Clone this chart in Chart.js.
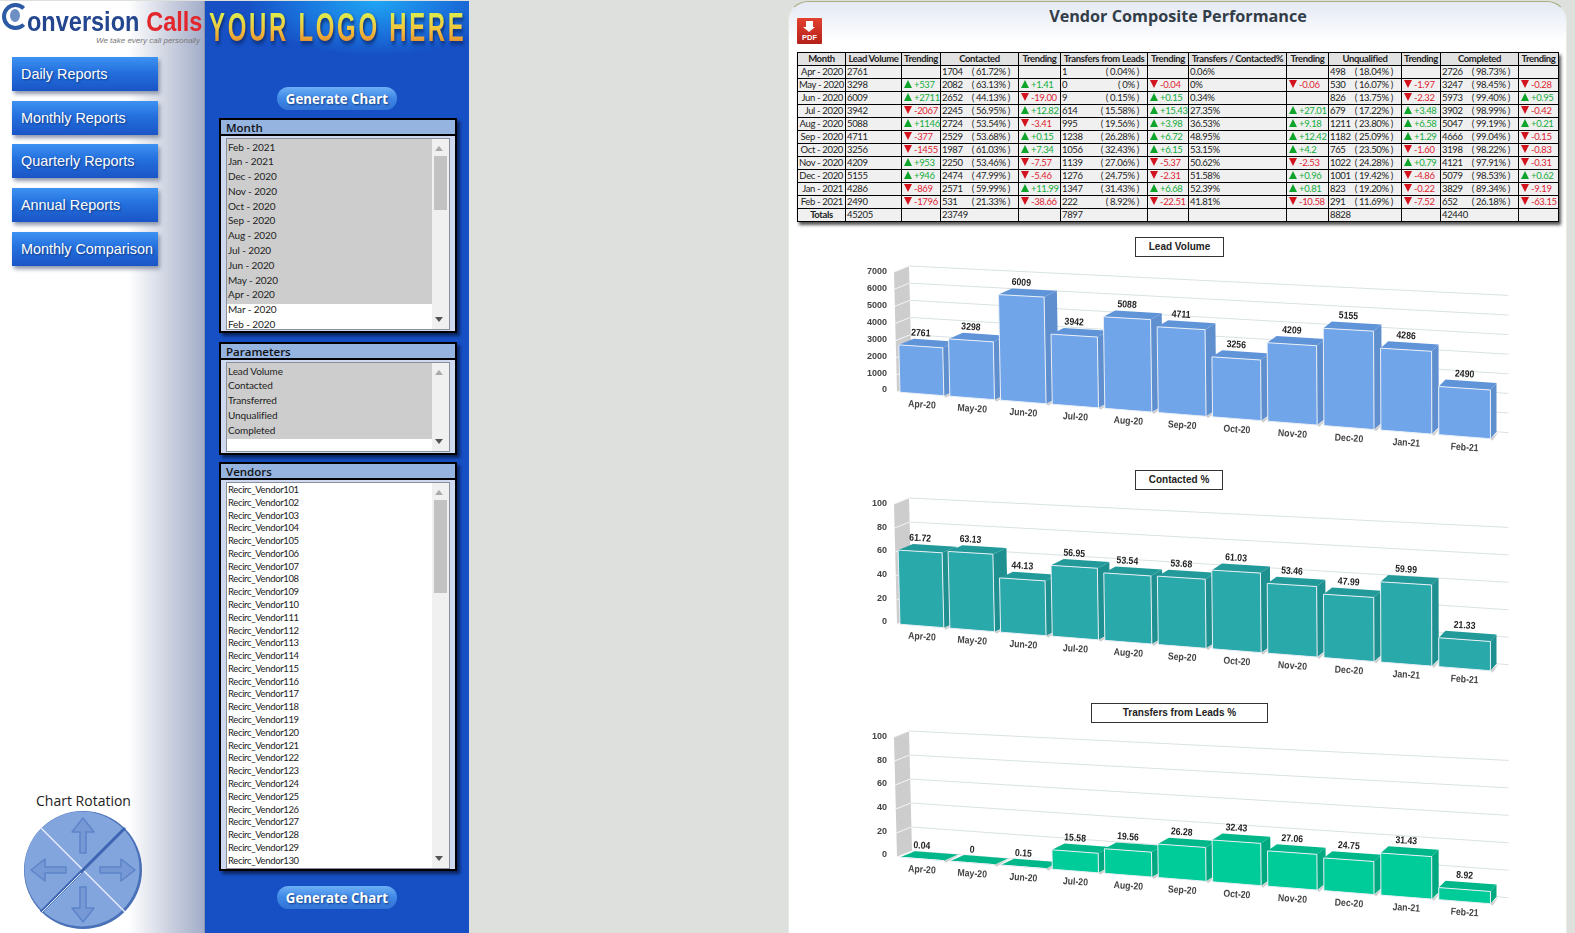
<!DOCTYPE html>
<html>
<head>
<meta charset="utf-8">
<title>Vendor Composite Performance</title>
<script src="https://cdn.jsdelivr.net/npm/chart.js@4/dist/chart.umd.min.js"></script>
<style>
html, body { margin: 0; padding: 0; width: 1575px; height: 933px; overflow: hidden; background: #dde0dc; font-family: "Open Sans", sans-serif; }
div, canvas, table, svg { position: absolute; box-sizing: border-box; }
#sidebar { left: 0; top: 1px; width: 205px; height: 932px; background: linear-gradient(90deg, #fff 0, #fff 128px, #c5cbdc 175px, #a3adc9 204px); border-right: 1px solid #8b93a8; }
.logo1 { left: 27px; top: 6px; font: bold 27.5px "Liberation Sans", sans-serif; color: #23468f; white-space: nowrap; transform-origin: left top; transform: scaleX(0.855); }
.logo1 b { color: #e3262c; margin-left: 8px; }
.logoC { left: 2px; top: 3px; width: 27px; height: 27px; border-radius: 50%; border: 4px solid #2c5aa5; border-right-color: transparent; }
.logoH { left: 10px; top: 9px; width: 10px; height: 13px; border-radius: 50%; background: #6d8fc4; }
.tag { left: 96px; top: 36px; font: italic 8px "Liberation Sans", sans-serif; color: #777; white-space: nowrap; }
.navbtn { left: 12px; width: 146px; height: 34px; background: linear-gradient(180deg, #3d92f2 0, #2470de 45%, #1a55c6 100%); box-shadow: 2px 3px 4px #8e98ac; color: #fff; font: 14.4px/35px "Liberation Sans", sans-serif; padding-left: 9px; text-shadow: 1px 1px 2px #123a80; white-space: nowrap; }
#blue { left: 205px; top: 1px; width: 264px; height: 932px; background: radial-gradient(ellipse 130px 55px at 170px 0, #1fa6f4 0, #1a72dc 60%, #1650c4 100%), #1650c4; background-size: 100% 60px; background-repeat: no-repeat; background-color: #1650c4; }
.yourlogo { left: 209px; top: 4px; font: bold 41px "Liberation Sans", sans-serif; letter-spacing: 4.6px; white-space: nowrap; transform-origin: left top; transform: scaleX(0.585); background: linear-gradient(180deg, #dfe84a 25%, #f2c23c 55%, #e48a2e 85%); -webkit-background-clip: text; background-clip: text; color: transparent; filter: drop-shadow(2px 3px 2px #0c2f78); }
.gen { left: 277px; width: 120px; height: 23px; border-radius: 12px; background: linear-gradient(180deg, #6cb0f6 0, #3f87e6 50%, #3273d6 100%); color: #fff; font: bold 13.3px/25px "Open Sans", sans-serif; text-align: center; text-shadow: 1px 1px 2px #123a80; }
.box { left: 219px; width: 238px; background: #ced9f0; border: 2px solid #000; box-shadow: 3px 3px 3px #0a2560; }
.boxhead { left: 0; top: 0; width: 234px; height: 16px; background: #96b4e0; border-bottom: 2px solid #000; font: 600 11.5px/16px "Open Sans", sans-serif; color: #111; padding-left: 5px; }
.list { left: 5px; width: 224px; background: #fff; border: 1px solid #8a8f9a; overflow: hidden; }
.sel { left: 0; top: 0; width: 205px; background: #cdcdcd; }
.item { left: 1px; font: 10px Lato, sans-serif; letter-spacing: -0.1px; color: #222; white-space: nowrap; line-height: 13px; }
#vendorList .item { font-size: 9.5px; letter-spacing: -0.35px; }
.scroll { right: 0; top: 0; width: 17px; height: 100%; background: #f0f0f0; }
.thumb { left: 2px; width: 13px; background: #c2c2c2; }
.arr { left: 3px; width: 0; height: 0; border-left: 4px solid transparent; border-right: 4px solid transparent; }
.rot { left: 0; width: 167px; top: 791px; text-align: center; font: 14px "Open Sans", sans-serif; color: #222; }
#card { left: 788px; top: 1px; width: 779px; height: 932px; border-radius: 20px 20px 0 0; border-top: 1px solid #a8ad7c; border-left: 1px solid #e8eae4; border-right: 1px solid #e8eae4; background: linear-gradient(180deg, #e4e9f4 0, #fff 40px, #fff 100%); }
.title { left: 785px; width: 786px; top: 5px; text-align: center; font: 700 16.2px "Open Sans", sans-serif; color: #333d48; }
.pdf { left: 797px; top: 18px; width: 25px; height: 26px; background: linear-gradient(180deg, #e2412f, #b5201a); border-radius: 1px; color: #fff; font: bold 7.5px "Liberation Sans", sans-serif; text-align: center; padding-top: 15px; }
.pdf i { position: absolute; left: 9px; top: 3px; width: 7px; height: 6px; background: #fff; }
.pdf u { position: absolute; left: 6px; top: 9px; width: 0; height: 0; border-left: 6.5px solid transparent; border-right: 6.5px solid transparent; border-top: 5px solid #fff; }
#tbl { left: 797px; top: 51.5px; width: 761px; border-collapse: collapse; table-layout: fixed; font: 9.5px Lato, sans-serif; letter-spacing: -0.35px; color: #222; box-shadow: 2px 3px 3px #555; background: #f0f0f0; }
#tbl tr { height: 13px; }
#tbl th, #tbl td { border: 1px solid #000; height: 12px; padding: 0 1px; white-space: nowrap; overflow: hidden; line-height: 11px; position: relative; }
#tbl th { background: #e2e2e2; font-weight: 700; font-size: 9.5px; text-align: center; }
#tbl td.mon { text-align: right; padding-right: 2px; }
#tbl td.tot { text-align: center; font-weight: 700; }
#tbl .pct { position: absolute; right: 8px; top: 0; }
#tbl .up { color: #13ad3c; }
#tbl .down { color: #e01d33; }
.tri { display: inline-block; width: 0; height: 0; border-left: 4px solid transparent; border-right: 4px solid transparent; margin: 0 2px 0 1px; }
.tri.u { border-bottom: 8px solid #0ea52a; }
.tri.d { border-top: 8px solid #d2121c; }
.ctitle { background: #fff; border: 1px solid #333; font: bold 10px/18px "Liberation Sans", sans-serif; text-align: center; color: #222; }
</style>
</head>
<body>
<div id="sidebar"></div>
<div class="logoC"></div><div class="logoH"></div>
<div class="logo1">onversion<b>Calls</b></div>
<div class="tag">We take every call personally</div>
<div id="nav"></div>
<div id="blue"></div>
<div class="yourlogo">YOUR LOGO HERE</div>
<div class="gen" style="top:87px">Generate Chart</div>
<div class="box" style="top:118px;height:215px"><div class="boxhead">Month</div><div class="list" id="monthList" style="top:18px;height:192px"></div></div>
<div class="box" style="top:342px;height:113px"><div class="boxhead">Parameters</div><div class="list" id="paramList" style="top:18px;height:90px"></div></div>
<div class="box" style="top:462px;height:409px"><div class="boxhead">Vendors</div><div class="list" id="vendorList" style="top:18px;height:387px"></div></div>
<div class="gen" style="top:886px">Generate Chart</div>
<div class="rot">Chart Rotation</div>
<svg style="left:20px;top:807px" width="126" height="126" viewBox="-63 -63 126 126">
  <circle r="59" fill="#4a70b8"/>
  <circle cx="-1" cy="-1" r="57.5" fill="#82a5dd"/>
  <line x1="-42" y1="-42" x2="42" y2="42" stroke="#e6eefa" stroke-width="1.5"/>
  <line x1="-42" y1="42" x2="42" y2="-42" stroke="#3d64b0" stroke-width="3"/>
  <line x1="-42" y1="43" x2="-2" y2="3" stroke="#e6eefa" stroke-width="1"/>
  <g fill="#7699d6" stroke="#5c84c8" stroke-width="1.5" stroke-linejoin="round">
    <path d="M0-52 L11-38 L3-38 L3-17 L-3-17 L-3-38 L-11-38 Z"/>
    <path d="M0 52 L11 38 L3 38 L3 17 L-3 17 L-3 38 L-11 38 Z"/>
    <path d="M-52 0 L-38 11 L-38 3 L-17 3 L-17 -3 L-38 -3 L-38 -11 Z"/>
    <path d="M52 0 L38 11 L38 3 L17 3 L17 -3 L38 -3 L38 -11 Z"/>
  </g>
</svg>
<div id="card"></div>
<div class="title">Vendor Composite Performance</div>
<div class="pdf"><i></i><u></u>PDF</div>
<table id="tbl"></table>
<div class="ctitle" style="left:1135px;top:237px;width:89px;height:20px">Lead Volume</div>
<div class="ctitle" style="left:1135px;top:470px;width:88px;height:20px">Contacted %</div>
<div class="ctitle" style="left:1091px;top:703px;width:177px;height:20px">Transfers from Leads %</div>
<canvas id="chartLead" width="680" height="200" style="left:850px;top:258px"></canvas>
<canvas id="chartContacted" width="680" height="200" style="left:850px;top:490px"></canvas>
<canvas id="chartTransfers" width="680" height="200" style="left:850px;top:723px"></canvas>

<script>
const navItems = ['Daily Reports', 'Monthly Reports', 'Quarterly Reports', 'Annual Reports', 'Monthly Comparison'];
const navTops = [57, 101, 144, 188, 232];
const monthOptions = ['Feb - 2021', 'Jan - 2021', 'Dec - 2020', 'Nov - 2020', 'Oct - 2020', 'Sep - 2020', 'Aug - 2020', 'Jul - 2020', 'Jun - 2020', 'May - 2020', 'Apr - 2020', 'Mar - 2020', 'Feb - 2020'];
const paramOptions = ['Lead Volume', 'Contacted', 'Transferred', 'Unqualified', 'Completed'];
const vendorOptions = ['Recirc_Vendor101', 'Recirc_Vendor102', 'Recirc_Vendor103', 'Recirc_Vendor104', 'Recirc_Vendor105', 'Recirc_Vendor106', 'Recirc_Vendor107', 'Recirc_Vendor108', 'Recirc_Vendor109', 'Recirc_Vendor110', 'Recirc_Vendor111', 'Recirc_Vendor112', 'Recirc_Vendor113', 'Recirc_Vendor114', 'Recirc_Vendor115', 'Recirc_Vendor116', 'Recirc_Vendor117', 'Recirc_Vendor118', 'Recirc_Vendor119', 'Recirc_Vendor120', 'Recirc_Vendor121', 'Recirc_Vendor122', 'Recirc_Vendor123', 'Recirc_Vendor124', 'Recirc_Vendor125', 'Recirc_Vendor126', 'Recirc_Vendor127', 'Recirc_Vendor128', 'Recirc_Vendor129', 'Recirc_Vendor130'];

const rowMonths = ['Apr - 2020', 'May - 2020', 'Jun - 2020', 'Jul - 2020', 'Aug - 2020', 'Sep - 2020', 'Oct - 2020', 'Nov - 2020', 'Dec - 2020', 'Jan - 2021', 'Feb - 2021'];
const categories = ['Apr-20', 'May-20', 'Jun-20', 'Jul-20', 'Aug-20', 'Sep-20', 'Oct-20', 'Nov-20', 'Dec-20', 'Jan-21', 'Feb-21'];

const leadVolume = [2761, 3298, 6009, 3942, 5088, 4711, 3256, 4209, 5155, 4286, 2490];
const leadTrend = ['', '+537', '+2711', '-2067', '+1146', '-377', '-1455', '+953', '+946', '-869', '-1796'];
const contacted = [1704, 2082, 2652, 2245, 2724, 2529, 1987, 2250, 2474, 2571, 531];
const contactedPct = [61.72, 63.13, 44.13, 56.95, 53.54, 53.68, 61.03, 53.46, 47.99, 59.99, 21.33];
const contactedTrend = ['', '+1.41', '-19.00', '+12.82', '-3.41', '+0.15', '+7.34', '-7.57', '-5.46', '+11.99', '-38.66'];
const transfers = [1, 0, 9, 614, 995, 1238, 1056, 1139, 1276, 1347, 222];
const transfersPct = [0.04, 0, 0.15, 15.58, 19.56, 26.28, 32.43, 27.06, 24.75, 31.43, 8.92];
const transfersTrend = ['', '-0.04', '+0.15', '+15.43', '+3.98', '+6.72', '+6.15', '-5.37', '-2.31', '+6.68', '-22.51'];
const transConPct = ['0.06%', '0%', '0.34%', '27.35%', '36.53%', '48.95%', '53.15%', '50.62%', '51.58%', '52.39%', '41.81%'];
const transConTrend = ['', '-0.06', '', '+27.01', '+9.18', '+12.42', '+4.2', '-2.53', '+0.96', '+0.81', '-10.58'];
const unqualified = [498, 530, 826, 679, 1211, 1182, 765, 1022, 1001, 823, 291];
const unqualifiedPct = ['18.04', '16.07', '13.75', '17.22', '23.80', '25.09', '23.50', '24.28', '19.42', '19.20', '11.69'];
const unqualifiedTrend = ['', '-1.97', '-2.32', '+3.48', '+6.58', '+1.29', '-1.60', '+0.79', '-4.86', '-0.22', '-7.52'];
const completed = [2726, 3247, 5973, 3902, 5047, 4666, 3198, 4121, 5079, 3829, 652];
const completedPct = ['98.73', '98.45', '99.40', '98.99', '99.19', '99.04', '98.22', '97.91', '98.53', '89.34', '26.18'];
const completedTrend = ['', '-0.28', '+0.95', '-0.42', '+0.21', '-0.15', '-0.83', '-0.31', '+0.62', '-9.19', '-63.15'];
const totals = ['45205', '23749', '7897', '8828', '42440'];

const headers = ['Month', 'Lead Volume', 'Trending', 'Contacted', 'Trending', 'Transfers from Leads', 'Trending', 'Transfers / Contacted%', 'Trending', 'Unqualified', 'Trending', 'Completed', 'Trending'];
const colWidths = [48, 56, 39, 78, 42, 87, 41, 98, 42, 73, 39, 78, 40];

// left side
navItems.forEach((t, i) => {
  const d = document.createElement('div');
  d.className = 'navbtn';
  d.style.top = navTops[i] + 'px';
  d.textContent = t;
  document.getElementById('nav').appendChild(d);
});

function fillList(id, items, firstTop, step, selCount, thumbTop, thumbH) {
  const list = document.getElementById(id);
  let html = '';
  if (selCount) html += `<div class="sel" style="height:${firstTop - 6 + selCount * step}px"></div>`;
  items.forEach((t, i) => {
    html += `<div class="item" style="top:${firstTop + i * step - 6.5}px">${t}</div>`;
  });
  html += '<div class="scroll">';
  if (thumbH) html += `<div class="thumb" style="top:${thumbTop}px;height:${thumbH}px"></div>`;
  html += '<div class="arr" style="top:7px;border-bottom:5px solid #aaa"></div>';
  html += '<div class="arr" style="bottom:7px;border-top:5px solid #555"></div></div>';
  list.innerHTML = html;
}
fillList('monthList', monthOptions, 8, 14.78, 11, 17, 54);
fillList('paramList', paramOptions, 8, 14.8, 5, 0, 0);
fillList('vendorList', vendorOptions, 6.5, 12.78, 0, 17, 93);

// data table
function pctCell(n, p) {
  return `<td>${n}<span class="pct">( ${p}% )</span></td>`;
}
function trendCell(t) {
  if (!t) return '<td></td>';
  const up = t[0] === '+';
  return `<td class="${up ? 'up' : 'down'}"><span class="tri ${up ? 'u' : 'd'}"></span>${t}</td>`;
}
let html = '<colgroup>' + colWidths.map(w => `<col style="width:${w}px">`).join('') + '</colgroup><tr>';
headers.forEach(h => html += `<th>${h}</th>`);
html += '</tr>';
rowMonths.forEach((m, i) => {
  html += '<tr>';
  html += `<td class="mon">${m}</td><td>${leadVolume[i]}</td>` + trendCell(leadTrend[i]);
  html += pctCell(contacted[i], contactedPct[i]) + trendCell(contactedTrend[i]);
  html += pctCell(transfers[i], transfersPct[i]) + trendCell(transfersTrend[i]);
  html += `<td>${transConPct[i]}</td>` + trendCell(transConTrend[i]);
  html += pctCell(unqualified[i], unqualifiedPct[i]) + trendCell(unqualifiedTrend[i]);
  html += pctCell(completed[i], completedPct[i]) + trendCell(completedTrend[i]);
  html += '</tr>';
});
html += `<tr><td class="tot">Totals</td><td>${totals[0]}</td><td></td><td>${totals[1]}</td><td></td><td>${totals[2]}</td><td></td><td></td><td></td><td>${totals[3]}</td><td></td><td>${totals[4]}</td><td></td></tr>`;
document.getElementById('tbl').innerHTML = html;

// 3D look: plot coordinates from the scales are projected on a tilted plane
const plane = { bl: [47, 134], br: [644, 181], tl: [44, 14], tr: [644, 44] };
const warpK = 0.09;

function project(chart, x, y, back) {
  const a = chart.chartArea;
  const u = (x - a.left) / (a.right - a.left);
  const v = (a.bottom - y) / (a.bottom - a.top);
  const w = u * (1 - warpK) + warpK * u * u;
  const bx = plane.bl[0] + (plane.br[0] - plane.bl[0]) * w;
  const by = plane.bl[1] + (plane.br[1] - plane.bl[1]) * w;
  const tx = plane.tl[0] + (plane.tr[0] - plane.tl[0]) * w;
  const ty = plane.tl[1] + (plane.tr[1] - plane.tl[1]) * w;
  let px = bx + (tx - bx) * v;
  let py = by + (ty - by) * v;
  if (back) {
    px += 15 - 9 * w;
    py += -6 - w;
  }
  return [px, py];
}

function poly(ctx, pts, fill, stroke) {
  ctx.beginPath();
  pts.forEach((p, i) => i ? ctx.lineTo(p[0], p[1]) : ctx.moveTo(p[0], p[1]));
  ctx.closePath();
  if (fill) { ctx.fillStyle = fill; ctx.fill(); }
  if (stroke) { ctx.strokeStyle = stroke; ctx.lineWidth = 1; ctx.stroke(); }
}

function tiltedText(ctx, t, x, y, color) {
  ctx.save();
  ctx.translate(x, y);
  ctx.rotate(0.065);
  ctx.scale(0.87, 1);
  ctx.font = 'bold 10px "Liberation Sans", sans-serif';
  ctx.fillStyle = color;
  ctx.textAlign = 'center';
  ctx.textBaseline = 'middle';
  ctx.fillText(t, 0, 0);
  ctx.restore();
}

const tiltPlugin = {
  id: 'tilt',
  beforeDatasetsDraw(chart) {
    const ctx = chart.ctx, a = chart.chartArea, ys = chart.scales.y;
    ctx.save();
    // side wall
    poly(ctx, [project(chart, a.left, a.top), project(chart, a.left, a.top, true), project(chart, a.left, a.bottom, true), project(chart, a.left, a.bottom)], '#cdcdcd');
    ys.ticks.forEach(t => {
      const y = ys.getPixelForValue(t.value);
      const s = project(chart, a.left, y), m = project(chart, a.left, y, true), e = project(chart, a.right + 8, y, true);
      ctx.strokeStyle = '#f4f6f6';
      ctx.lineWidth = 1;
      ctx.beginPath(); ctx.moveTo(s[0], s[1]); ctx.lineTo(m[0], m[1]); ctx.stroke();
      ctx.strokeStyle = '#d9e2e4';
      ctx.beginPath(); ctx.moveTo(m[0], m[1]); ctx.lineTo(e[0], e[1]); ctx.stroke();
    });
    ctx.restore();
  },
  beforeDatasetDraw(chart, args) {
    const ctx = chart.ctx, ds = chart.data.datasets[args.index], xs = chart.scales.x;
    ctx.save();
    args.meta.data.forEach((el, i) => {
      const xl = el.x - el.width / 2, xr = el.x + el.width / 2;
      const ftl = project(chart, xl, el.y), ftr = project(chart, xr, el.y), fbr = project(chart, xr, el.base), fbl = project(chart, xl, el.base);
      const btl = project(chart, xl, el.y, true), btr = project(chart, xr, el.y, true), bbr = project(chart, xr, el.base, true);
      // floor shadow
      poly(ctx, [fbr, [bbr[0] + 2, bbr[1]], [fbr[0] + 2, fbr[1] + 2]], '#cfcfcf');
      poly(ctx, [ftr, fbr, bbr, btr], ds.sideColor);
      poly(ctx, [ftl, ftr, btr, btl], ds.topColor);
      poly(ctx, [ftl, ftr, fbr, fbl], ds.backgroundColor, '#e8eef6');
      // value and category text
      const cx = (ftl[0] + ftr[0]) / 2;
      tiltedText(ctx, String(ds.data[i]), cx, (btl[1] + btr[1]) / 2 - 7, '#222');
      tiltedText(ctx, xs.getLabelForValue(i), (fbl[0] + fbr[0]) / 2, (fbl[1] + fbr[1]) / 2 + 11, '#444');
    });
    ctx.restore();
    return false;
  }
};

function drawChart(id, label, values, yMax, step, front, side, top) {
  new Chart(document.getElementById(id), {
    type: 'bar',
    data: {
      labels: categories,
      datasets: [{
        label: label,
        data: values,
        backgroundColor: front,
        sideColor: side,
        topColor: top,
        categoryPercentage: 1,
        barPercentage: 0.88
      }]
    },
    options: {
      responsive: false,
      animation: false,
      layout: { padding: { top: 7, bottom: 60, right: 30 } },
      plugins: { legend: { display: false }, tooltip: { enabled: false } },
      scales: {
        x: { grid: { display: false }, border: { display: false }, ticks: { display: false } },
        y: {
          min: 0,
          max: yMax,
          afterFit: s => { s.width = 45; },
          grid: { display: false, drawTicks: false },
          border: { display: false },
          ticks: {
            stepSize: step,
            padding: 8,
            color: '#444',
            callback: v => String(v),
            font: { family: '"Liberation Sans", sans-serif', size: 9, weight: 'bold' }
          }
        }
      }
    },
    plugins: [tiltPlugin]
  });
}

drawChart('chartLead', 'Lead Volume', leadVolume, 7000, 1000, '#70a5ea', '#5f8fcf', '#6094d8');
drawChart('chartContacted', 'Contacted %', contactedPct, 100, 20, '#29a9a9', '#1f9090', '#239a9a');
drawChart('chartTransfers', 'Transfers from Leads %', transfersPct, 100, 20, '#00cc99', '#00a97f', '#00b78a');
</script>
</body>
</html>
